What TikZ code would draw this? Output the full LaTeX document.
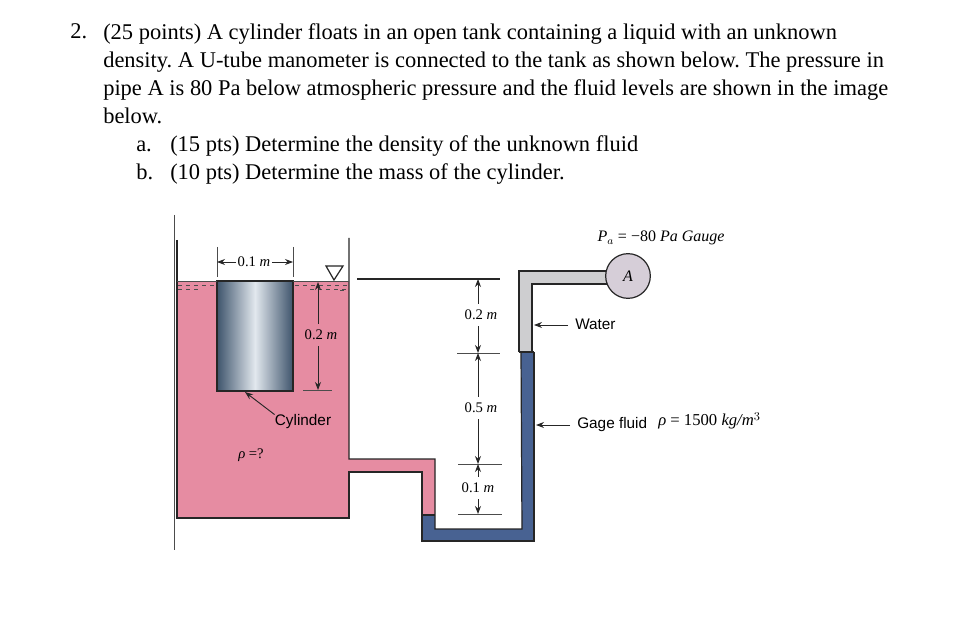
\documentclass[tikz,border=0pt]{standalone}
\usepackage{fontspec}
\setmainfont{Liberation Serif}
\newfontfamily\labelfont{Liberation Sans}
\usetikzlibrary{positioning,arrows.meta}
\definecolor{liquidpink}{RGB}{230,140,162}
\definecolor{watergrey}{RGB}{206,206,208}
\definecolor{gageblue}{RGB}{72,98,146}
\definecolor{bulbgrey}{RGB}{214,206,216}
\definecolor{cyldark}{RGB}{62,84,108}
\definecolor{cyllight}{RGB}{226,232,238}
\newcommand{\ital}[1]{\textit{#1}}
\tikzset{
  question/.style={anchor=north west,align=left,inner sep=0pt,font=\fontsize{16.85pt}{21pt}\selectfont\frenchspacing},
  dimlabel/.style={inner xsep=1pt,inner ysep=4.5pt,font=\fontsize{11pt}{12pt}\selectfont},
  sidelabel/.style={anchor=west,inner sep=0pt,font=\labelfont\fontsize{11.5pt}{13pt}\selectfont},
  wall/.style={black!85,line width=0.9pt},
  thin line/.style={black!70,line width=0.6pt},
  dimarrow/.style={black!85,line width=0.7pt,-{Stealth[length=6pt,width=4.5pt]}},
}
\begin{document}
\begin{tikzpicture}[x=0.75pt,y=-0.75pt]
    \useasboundingbox (0,0) rectangle (968,624);
    \node[question] (num) at (70,23) {\vphantom{(}2.};
    \node[question] (body) at (103,23) {(25 points) A cylinder floats in an open tank containing a liquid with an unknown\\density. A U-tube manometer is connected to the tank as shown below. The pressure in\\pipe A is 80 Pa below atmospheric pressure and the fluid levels are shown in the image\\below.};
    \node[question] (parta) at (136,135) {\makebox[25.5pt][l]{a.}(15 pts) Determine the density of the unknown fluid\\\makebox[25.5pt][l]{b.}(10 pts) Determine the mass of the cylinder.};

    \fill[liquidpink] (177,281) -- (349,281) -- (349,459) -- (435,459) -- (435,515) -- (422,515) -- (422,472) -- (349,472) -- (349,518) -- (177,518) -- cycle;
    \fill[gageblue] (422,515) -- (435,515) -- (435,529) -- (522,529) -- (521,352) -- (534,352) -- (534,541) -- (422,541) -- cycle;
    \fill[watergrey] (519,271) -- (610,271) -- (610,284) -- (532,284) -- (532,352) -- (519,352) -- cycle;
    \shade[left color=cyldark,right color=cyldark,middle color=cyllight,draw=black!85,line width=0.9pt] (217,281) rectangle (293,391);

    \draw[thin line] (174,215) -- (174,550);
    \draw[wall] (177,240) -- (177,518) -- (349,518) -- (349,472) -- (422,472) -- (422,541) -- (534,541) -- (534,352);
    \draw[wall] (349,238) -- (349,459) -- (435,459) -- (435,529) -- (522,529) -- (521,352);
    \draw[wall] (422,515) -- (435,515);
    \draw[wall] (519,352) -- (534,352);
    \draw[wall] (519,352) -- (519,271) -- (610,271);
    \draw[wall] (532,352) -- (532,284) -- (610,284);
    \draw[thin line] (177,281) -- (217,281);
    \draw[thin line] (293,281) -- (349,281);
    \foreach \ya/\xa/\xb in {285/178/215, 289/178/200, 285/295/347, 289/310/347, 290/340/347}
      \draw[black!70,line width=0.5pt,dashed] (\xa,\ya) -- (\xb,\ya);

    \node[circle,draw=black!85,line width=0.9pt,fill=bulbgrey,minimum size=33.5pt,inner sep=0pt,font=\fontsize{12pt}{12pt}\selectfont\itshape] (pipeA) at (628,276) {A};
    \node[inner sep=0pt,font=\fontsize{12pt}{13pt}\selectfont] (gauge) at (661,238) {\ital{P}$_a$ = −80 \ital{Pa Gauge}};

    \node[dimlabel] (wlabel) at (254,262) {0.1 \ital{m}};
    \coordinate (wleft) at (217,262);
    \coordinate (wright) at (293,262);
    \draw[thin line] (217,247) -- (217,277);
    \draw[thin line] (293,247) -- (293,277);
    \draw[dimarrow] (wlabel.west) -- (wleft);
    \draw[dimarrow] (wlabel.east) -- (wright);

    \coordinate (freetip) at (334,280);
    \draw[wall,fill=white] (freetip) -- (326,266) -- (343,266) -- cycle;
    \draw[wall] (357,279) -- (500,279);

    \node[dimlabel] (hlabel) at (321,335) {0.2 \ital{m}};
    \coordinate (htop) at (318,282);
    \coordinate (hbot) at (318,390);
    \draw[dimarrow] (hlabel.north -| htop) -- (htop);
    \draw[dimarrow] (hlabel.south -| hbot) -- (hbot);
    \draw[thin line] (303,390) -- (332,390);

    \node[sidelabel,anchor=center] (cyl) at (303,422) {Cylinder};
    \coordinate (cylbot) at (245,392);
    \draw[dimarrow] (cyl.north west) -- (cylbot);
    \node[dimlabel] (rhoq) at (251,455) {\ital{ρ} =?};

    \node[dimlabel] (gapa) at (481,315) {0.2 \ital{m}};
    \node[dimlabel] (gapb) at (481,408) {0.5 \ital{m}};
    \node[dimlabel] (gapc) at (478,488) {0.1 \ital{m}};
    \coordinate (levela) at (478,279);
    \coordinate (levelb) at (478,353);
    \coordinate (levelc) at (478,464);
    \coordinate (leveld) at (478,514);
    \draw[thin line] (457,353) -- (500,353);
    \draw[thin line] (458,464) -- (502,464);
    \draw[thin line] (458,514) -- (502,514);
    \draw[dimarrow] (gapa.north -| levela) -- (levela);
    \draw[dimarrow] (gapa.south -| levelb) -- (levelb);
    \draw[dimarrow] (gapb.north -| levelb) -- (levelb);
    \draw[dimarrow] (gapb.south -| levelc) -- (levelc);
    \draw[dimarrow] (gapc.north -| levelc) -- (levelc);
    \draw[dimarrow] (gapc.south -| leveld) -- (leveld);

    \node[sidelabel] (water) at (575,324) {Water};
    \coordinate (watertip) at (534,325);
    \draw[dimarrow] (water.west) ++(-7,1) -- (watertip);
    \node[sidelabel] (gage) at (577,425) {Gage fluid};
    \coordinate (gagetip) at (536,425);
    \draw[dimarrow] (gage.west) ++(-7,0) -- (gagetip);
    \node[anchor=west,inner sep=0pt,font=\fontsize{12.5pt}{13pt}\selectfont] (rhog) at (658,421) {\ital{ρ} = 1500 \ital{kg/m}$^3$};
  \end{tikzpicture}
\end{document}
